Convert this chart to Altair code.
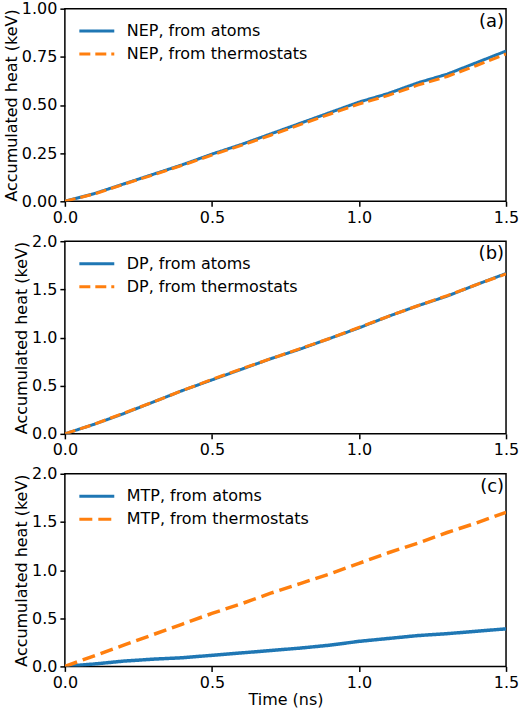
import altair as alt
import pandas as pd

time_ns = [0.0, 0.1, 0.2, 0.3, 0.4, 0.5, 0.6, 0.7, 0.8, 0.9, 1.0, 1.1, 1.2, 1.3, 1.4, 1.5]

nep_labels = ["NEP, from atoms", "NEP, from thermostats"]
nep_atoms = [0.0, 0.04, 0.09, 0.14, 0.19, 0.245, 0.295, 0.35, 0.405, 0.46, 0.515, 0.56, 0.615, 0.66, 0.72, 0.78]
nep_thermo = [0.0, 0.038, 0.088, 0.137, 0.187, 0.24, 0.29, 0.343, 0.398, 0.452, 0.505, 0.55, 0.603, 0.648, 0.705, 0.765]

dp_labels = ["DP, from atoms", "DP, from thermostats"]
dp_atoms = [0.0, 0.1, 0.21, 0.33, 0.45, 0.56, 0.67, 0.78, 0.88, 0.99, 1.10, 1.22, 1.33, 1.43, 1.55, 1.665]
dp_thermo = [0.0, 0.1, 0.215, 0.33, 0.45, 0.565, 0.675, 0.78, 0.885, 0.99, 1.105, 1.22, 1.33, 1.435, 1.55, 1.66]

mtp_labels = ["MTP, from atoms", "MTP, from thermostats"]
mtp_atoms = [0.0, 0.025, 0.055, 0.075, 0.09, 0.115, 0.14, 0.165, 0.19, 0.22, 0.26, 0.29, 0.32, 0.34, 0.365, 0.39]
mtp_thermo = [0.0, 0.11, 0.22, 0.33, 0.44, 0.55, 0.65, 0.76, 0.86, 0.96, 1.07, 1.18, 1.28, 1.39, 1.49, 1.60]

x_ticks = [0.0, 0.5, 1.0, 1.5]
y_ticks_a = [0.0, 0.25, 0.5, 0.75, 1.0]
y_ticks_bc = [0.0, 0.5, 1.0, 1.5, 2.0]

BLUE = "#1f77b4"
ORANGE = "#ff7f0e"
FONT = "DejaVu Sans"
W, H = 442, 193


def panel(labels, series, ymax, yticks, yfmt, tag, xtitle, sw, dash):
    rows = []
    for lab, vals in zip(labels, series):
        for t, v in zip(time_ns, vals):
            rows.append({"t": t, "q": v, "series": lab})
    df = pd.DataFrame(rows)
    xaxis_kw = dict(values=x_ticks, format=".1f", labelFlush=False)
    xaxis_kw["title"] = xtitle if xtitle else None
    leg = alt.Legend(title=None, orient="none", symbolType="stroke",
                     symbolSize=1225, symbolStrokeWidth=3, labelFontSize=16,
                     labelFont=FONT, labelColor="black", rowPadding=2, clipHeight=21,
                     legendX=13, legendY=12, labelOffset=11, padding=0, labelLimit=0)
    lines = alt.Chart(df).mark_line(strokeWidth=sw, clip=True).encode(
        x=alt.X("t:Q", scale=alt.Scale(domain=[0, 1.5], nice=False),
                axis=alt.Axis(**xaxis_kw)),
        y=alt.Y("q:Q", scale=alt.Scale(domain=[0, ymax], nice=False),
                axis=alt.Axis(values=yticks, format=yfmt, labelFlush=False,
                              title="Accumulated heat (keV)")),
        color=alt.Color("series:N", scale=alt.Scale(domain=labels, range=[BLUE, ORANGE]), legend=leg),
        strokeDash=alt.StrokeDash("series:N", scale=alt.Scale(domain=labels, range=[[1, 0], dash]), legend=leg),
    )
    label = alt.Chart(pd.DataFrame({"tag": [tag]})).mark_text(
        align="right", baseline="top", fontSize=18, font=FONT, color="black"
    ).encode(text="tag:N", x=alt.value(W - 2), y=alt.value(4))
    return alt.layer(lines, label).properties(width=W, height=H)


pa = panel(nep_labels, [nep_atoms, nep_thermo], 1.0, y_ticks_a, ".2f", "(a)", None, 3, [11, 5])
pb = panel(dp_labels, [dp_atoms, dp_thermo], 2.0, y_ticks_bc, ".1f", "(b)", None, 3, [11, 5])
pc = panel(mtp_labels, [mtp_atoms, mtp_thermo], 2.0, y_ticks_bc, ".1f", "(c)", "Time (ns)", 3.5, [13, 6])

chart = alt.vconcat(pa, pb, pc, spacing=6).resolve_scale(
    color="independent", strokeDash="independent"
).resolve_legend(color="independent", strokeDash="independent").properties(
    padding={"left": 2, "top": -1, "right": 0, "bottom": 0}
).configure(font=FONT).configure_view(
    stroke="black", strokeWidth=1.5
).configure_axis(
    domain=False, grid=False, ticks=True, tickColor="black", tickWidth=1.5, tickSize=5,
    labelFont=FONT, labelFontSize=16, labelColor="black", labelPadding=3,
    titleFont=FONT, titleFontSize=16, titleFontWeight="normal", titleColor="black", titlePadding=2,
).configure_axisBottom(titlePadding=1)

chart.save("out.html", embed_options={"renderer": "svg", "actions": False})
